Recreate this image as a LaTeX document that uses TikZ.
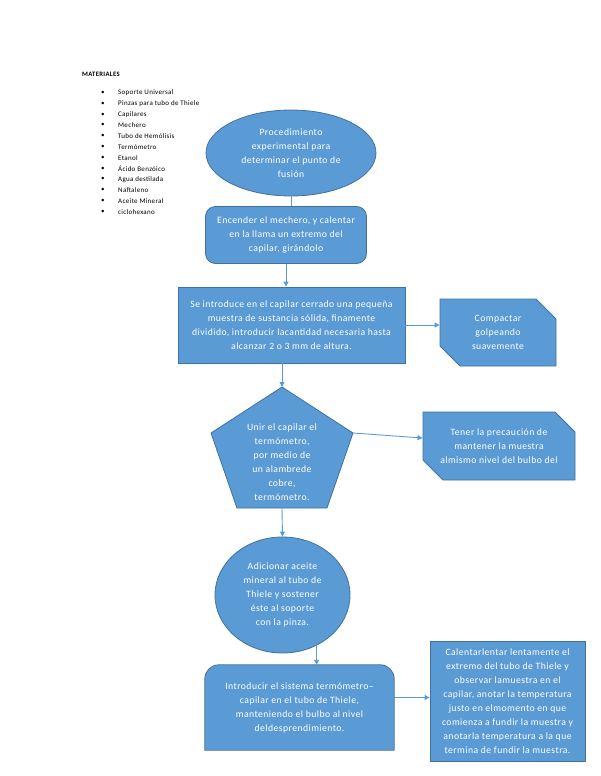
\documentclass[tikz,border=0pt]{standalone}
\usepackage{fontspec}
\setmainfont{Carlito}
\newfontfamily\boxfont{Carlito}[LetterSpace=4.5]
\usetikzlibrary{arrows.meta,shapes.geometric,shapes.misc,backgrounds}

\definecolor{boxblue}{HTML}{5B9BD5}
\definecolor{edgeblue}{HTML}{41719C}

\begin{document}
\begin{tikzpicture}[x=1pt,y=-1pt,
  every node/.style={font=\boxfont\fontsize{9.7}{14}\selectfont, text=white, align=center},
  block/.style={fill=boxblue, draw=edgeblue, line width=0.8pt, inner sep=0pt},
  snipped/.style={block, chamfered rectangle, chamfered rectangle corners={north east,south west}, chamfered rectangle xsep=10pt, chamfered rectangle ysep=10pt},
  flow/.style={draw=boxblue, line width=0.9pt, -{Triangle[width=5pt,length=5pt]}},
  matitem/.style={font=\boxfont\fontsize{7}{8}\selectfont, text=black, anchor=west, inner sep=0pt}]
  \useasboundingbox (0,0) rectangle (600,776);

  % materiales
  \node[matitem, font=\boxfont\bfseries\fontsize{6.7}{8}\selectfont] (mattitle) at (82,74) {MATERIALES};
  \foreach \mat [count=\i] in {Soporte Universal, Pinzas para tubo de Thiele, Capilares, Mechero,
      Tubo de Hemólisis, Termómetro, Etanol, Ácido Benzóico, Agua destilada, Naftaleno,
      Aceite Mineral, ciclohexano} {
    \node[matitem] (bul\i) at (101,{82+10.8*\i}) {\textbullet};
    \node[matitem] (mat\i) at (118,{82+10.8*\i}) {\mat};
  }

  % diagrama de flujo
  \node[block, ellipse, minimum width=170pt, minimum height=86pt] (start) at (291,153)
    {Procedimiento\\experimental para\\determinar el punto de\\fusión};
  \node[block, rounded corners=10pt, minimum width=161pt, minimum height=57pt] (heat) at (286,235)
    {Encender el mechero, y calentar\\en la llama un extremo del\\capilar, girándolo};
  \node[block, minimum width=227pt, minimum height=76pt] (load) at (291.5,325)
    {Se introduce en el capilar cerrado una pequeña\\muestra de sustancia sólida, finamente\\dividido, introducir lacantidad necesaria hasta\\alcanzar 2 o 3 mm de altura.};
  \node[snipped, minimum width=116pt, minimum height=67pt] (compact) at (498,332.5)
    {Compactar\\golpeando\\suavemente};

  \coordinate (pN) at (282,387);
  \coordinate (pE) at (353,433);
  \coordinate (pSE) at (327,508);
  \coordinate (pS) at (282,508);
  \coordinate (pSW) at (237,508);
  \coordinate (pW) at (211,433);
  \filldraw[block] (pN) -- (pE) -- (pSE) -- (pSW) -- (pW) -- cycle;
  \node (join) at (282,462)
    {Unir el capilar el\\termómetro,\\por medio de\\un alambrede\\cobre,\\termómetro.};
  \node[snipped, minimum width=152pt, minimum height=68pt] (care) at (499,446)
    {Tener la precaución de\\mantener la muestra\\almismo nivel del bulbo del};

  \node[block, ellipse, minimum width=135pt, minimum height=116pt] (oil) at (282.5,595)
    {Adicionar aceite\\mineral al tubo de\\Thiele y sostener\\éste al soporte\\con la pinza.};
  \node[minimum width=189pt, minimum height=85pt, inner sep=0pt] (insert) at (299.5,707.5)
    {Introducir el sistema termómetro–\\capilar en el tubo de Thiele,\\manteniendo el bulbo al nivel\\deldesprendimiento.};
  \begin{scope}[on background layer]
    \filldraw[block] (insert.south west) -- ([yshift=-14pt]insert.north west)
      arc[start angle=180, end angle=90, radius=14pt] -- ([xshift=-14pt]insert.north east)
      arc[start angle=90, end angle=0, radius=14pt] -- (insert.south east) -- cycle;
  \end{scope}
  \node[block, minimum width=155pt, minimum height=120pt] (watch) at (507.5,701)
    {Calentarlentar lentamente el\\extremo del tubo de Thiele y\\observar lamuestra en el\\capilar, anotar la temperatura\\justo en elmomento en que\\comienza a fundir la muestra y\\anotarla temperatura a la que\\termina de fundir la muestra.};

  % conectores
  \draw[draw=boxblue, line width=0.9pt] (start.south) -- (start.south |- heat.north);
  \draw[flow] (heat.south) -- (heat.south |- load.north);
  \draw[flow] (load.east) -- (load.east -| compact.west);
  \draw[flow] (pN |- load.south) -- (pN);
  \draw[flow] (pE) -- ([yshift=8pt]care.west);
  \draw[flow] (pS) -- (oil.north);
  \draw[flow] (oil.-56) -- (oil.-56 |- insert.north);
  \draw[flow] ([yshift=10pt]insert.east) -- ([yshift=10pt]insert.east -| watch.west);
\end{tikzpicture}
\end{document}
